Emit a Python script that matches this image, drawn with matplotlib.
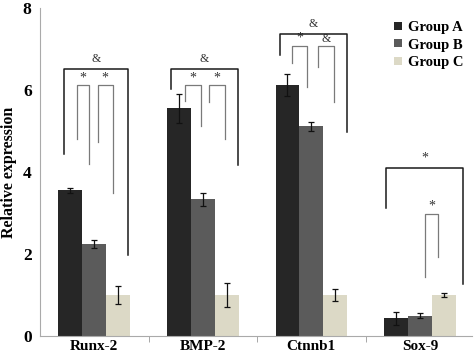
import matplotlib
matplotlib.use("Agg")
import matplotlib.pyplot as plt
import numpy as np

categories = ["Runx-2", "BMP-2", "Ctnnb1", "Sox-9"]
groups = ["Group A", "Group B", "Group C"]
group_a = [3.55, 5.55, 6.12, 0.43]
group_b = [2.24, 3.33, 5.11, 0.50]
group_c = [1.00, 1.00, 1.00, 1.00]
err_a = [0.05, 0.35, 0.27, 0.16]
err_b = [0.10, 0.15, 0.10, 0.06]
err_c = [0.23, 0.30, 0.15, 0.04]

# significance brackets: (category index, x_left offset, x_right offset, top, left bottom, right bottom, label, big)
brackets = [
    (0, -0.28, 0.31, 6.52, 4.44, 1.97, "&", True),
    (0, -0.16, -0.05, 6.11, 4.81, 4.20, "*", False),
    (0, 0.03, 0.17, 6.11, 4.73, 3.48, "*", False),
    (1, -0.29, 0.32, 6.52, 6.02, 4.17, "&", True),
    (1, -0.16, -0.02, 6.11, 5.74, 5.12, "*", False),
    (1, 0.06, 0.20, 6.11, 5.70, 4.80, "*", False),
    (2, -0.29, 0.33, 7.36, 6.85, 4.98, "&", True),
    (2, -0.18, -0.04, 7.07, 6.65, 6.07, "*", False),
    (2, 0.06, 0.21, 7.07, 6.57, 5.71, "&", False),
    (3, -0.31, 0.40, 4.09, 3.13, 1.28, "*", True),
    (3, 0.05, 0.17, 2.98, 1.45, 1.93, "*", False),
]

colors = ["#262626", "#5b5b5b", "#dcd9c6"]
plt.rcParams["font.family"] = ["Liberation Serif", "DejaVu Serif"]
plt.rcParams["font.weight"] = "bold"

fig = plt.figure(figsize=(4.74, 3.55), dpi=100)
ax = fig.add_axes([40 / 474, 19 / 355, 432 / 474, 328 / 355])

x = np.arange(len(categories))
w = 0.22
for i, (vals, errs) in enumerate(zip([group_a, group_b, group_c], [err_a, err_b, err_c])):
    ax.bar(x + (i - 1) * w, vals, w, color=colors[i], label=groups[i], zorder=2)
    ax.errorbar(x + (i - 1) * w, vals, yerr=errs, fmt="none", ecolor="#111111",
                elinewidth=0.9, capsize=2, capthick=0.9, zorder=3)

for ci, xl, xr, top, bl, br, lab, big in brackets:
    c = "#1a1a1a" if big else "#7a7a7a"
    lw = 1.1 if big else 0.9
    x0, x1 = ci + xl, ci + xr
    ax.plot([x0, x0, x1, x1], [bl, top, top, br], color=c, lw=lw, zorder=4)
    ax.text((x0 + x1) / 2, top + (0.1 if big else 0.03), lab, ha="center", va="bottom",
            fontsize=8.5 if lab == "&" else 10, color="#333333", fontweight="normal")

ax.set_xlim(-0.5, 3.48)
ax.set_ylim(0, 8)
ax.set_yticks([0, 2, 4, 6, 8])
ax.set_yticklabels(["0", "2", "4", "6", "8"], fontsize=12.5, fontweight="bold")
ax.set_xticks(x)
ax.set_xticklabels(categories, fontsize=11, fontweight="bold")
ax.set_xticks(np.arange(0.5, 3.5, 1), minor=True)
ax.tick_params(axis="x", which="major", length=0, pad=3)
ax.tick_params(axis="x", which="minor", length=4, color="#999999")
ax.tick_params(axis="y", length=0, pad=6)
for s in ["top", "right"]:
    ax.spines[s].set_visible(False)
ax.spines["left"].set_color("#aaaaaa")
ax.spines["bottom"].set_color("#aaaaaa")
ax.set_ylabel("Relative expression", fontsize=11.5, fontweight="bold", labelpad=4)

leg = ax.legend(loc="upper left", bbox_to_anchor=(0.79, 1.0), frameon=False,
                prop={"family": "Liberation Serif", "weight": "bold", "size": 10.5},
                handlelength=0.5, handleheight=0.5, handletextpad=0.4, labelspacing=0.3)

fig.savefig("out.png", dpi=100)
